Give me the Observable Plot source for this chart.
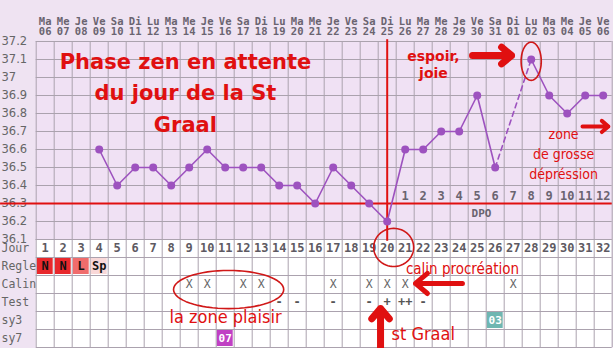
<!DOCTYPE html>
<html><head><meta charset="utf-8">
<script src="https://cdn.jsdelivr.net/npm/d3@7"></script>
<script src="https://cdn.jsdelivr.net/npm/@observablehq/plot@0.6"></script>
<style>
html,body{margin:0;padding:0;background:#efe3f2;}
#chart svg{display:block;}
</style></head>
<body><div id="chart"></div>
<script>
// ---- data ----
const cycleDays = [1,2,3,4,5,6,7,8,9,10,11,12,13,14,15,16,17,18,19,20,21,22,23,24,25,26,27,28,29,30,31,32];
const dayNames = ["Ma","Me","Je","Ve","Sa","Di","Lu","Ma","Me","Je","Ve","Sa","Di","Lu","Ma","Me","Je","Ve","Sa","Di","Lu","Ma","Me","Je","Ve","Sa","Di","Lu","Ma","Me","Je","Ve"];
const dayDates = ["06","07","08","09","10","11","12","13","14","15","16","17","18","19","20","21","22","23","24","25","26","27","28","29","30","31","01","02","03","04","05","06"];
const temps = [null,null,null,36.6,36.4,36.5,36.5,36.4,36.5,36.6,36.5,36.5,36.5,36.4,36.4,36.3,36.5,36.4,36.3,36.2,36.6,36.6,36.7,36.7,36.9,36.5,null,37.1,36.9,36.8,36.9,36.9];
const tempTicks = [37.2,37.1,37.0,36.9,36.8,36.7,36.6,36.5,36.4,36.3,36.2,36.1];
const coverline = 36.3;
const ovulationDay = 20;
const dpoDays = [21,22,23,24,25,26,27,28,29,30,31,32];
const dpoLabels = ["1","2","3","4","5","6","7","8","9","10","11","12"];
const regleDays = [1,2,3,4];
const regleCodes = ["N","N","L","Sp"];
const regleColors = ["#e8282c","#e8282c","#f06c6c","#f9d8d8"];
const calinDays = [9,10,12,13,17,19,20,21,27];
const testDays = [14,15,17,19,20,21,22];
const testLabels = ["-","-","-","-","+","++","-"];
const sy3Days = [26]; const sy3Labels = ["03"];
const sy7Days = [11]; const sy7Labels = ["07"];
const rowNames = ["Jour","Regle","Calin","Test","sy3","sy7"];
// row centres on the shared vertical scale (0.1 per row under 36.1)
const rowCenters = [36.05,35.95,35.85,35.75,35.65,35.55];
const rowLines = [36.1,36.0,35.9,35.8,35.7,35.6,35.5];

const RED = "#e01010";
const GRID = "#aba2ae";
const PURPLE = "#9d52bf";
const MONO = "DejaVu Sans Mono, monospace";
const HAND = "DejaVu Sans Condensed, DejaVu Sans, sans-serif";

const tempData = cycleDays.map((d,i)=>({day:d, t:temps[i]}));
const tempPoints = tempData.filter(d=>d.t!=null);
const gap = [{day:26,t:temps[25]},{day:28,t:temps[27]}];
const row = name => rowCenters[rowNames.indexOf(name)];

function ellipse(id,cx,cy,rx,ry){
  const pts=[]; for(let k=0;k<64;k++){const a=2*Math.PI*k/64; pts.push({id,x:cx+rx*Math.cos(a),y:cy+ry*Math.sin(a)});} return pts;
}
const ellipses = [
  ...ellipse("e28",28.0,37.09,0.56,0.106),
  ...ellipse("j20",20.36,36.056,1.11,0.106),
  ...ellipse("cal",11.19,35.822,3.06,0.106)
];

const gridX = d3.range(0,33).map(i=>i+0.5);

const chart = Plot.plot({
  width:613, height:348,
  marginLeft:35.7, marginRight:1.3, marginTop:41, marginBottom:1,
  style:{background:"#efe3f2", overflow:"visible"},
  x:{domain:[0.5,32.5], axis:null},
  y:{domain:[35.5,37.2], label:null},
  marks:[
    Plot.rect([0],{x1:0.5,x2:32.5,y1:36.1,y2:37.2,fill:"#f0e1f4"}),
    Plot.rect([0],{x1:0.5,x2:32.5,y1:35.5,y2:36.1,fill:"#ffffff"}),
    Plot.rect(regleDays,{x1:d=>d-0.5,x2:d=>d+0.5,y1:35.9,y2:36.0,fill:(d,i)=>regleColors[i],inset:1}),
    Plot.rect(sy3Days,{x1:d=>d-0.5,x2:d=>d+0.5,y1:35.6,y2:35.7,fill:"#6fb6b1",inset:1}),
    Plot.rect(sy7Days,{x1:d=>d-0.5,x2:d=>d+0.5,y1:35.5,y2:35.6,fill:"#c040c4",inset:1}),
    Plot.ruleX(gridX,{y1:35.5,y2:37.2,stroke:GRID,strokeWidth:1}),
    Plot.ruleY([...tempTicks,...rowLines],{x1:0.5,x2:32.5,stroke:GRID,strokeWidth:1}),
    Plot.axisY(tempTicks,{tickSize:0,tickPadding:0,textAnchor:"start",dx:-34.7,fontSize:11.5,fill:"#666",fontFamily:"DejaVu Sans, sans-serif",tickFormat:d=>String(+d.toFixed(1))}),
    Plot.text(rowNames,{x:0.5,y:(d,i)=>rowCenters[i],text:d=>d,textAnchor:"start",dx:-34.7,fontSize:11.5,fill:"#666",fontFamily:MONO}),
    Plot.text(cycleDays,{x:d=>d,frameAnchor:"top",dy:-24,text:(d,i)=>dayNames[i],fontSize:10.5,fontWeight:"bold",fill:"#6a6470",fontFamily:MONO}),
    Plot.text(cycleDays,{x:d=>d,frameAnchor:"top",dy:-14,text:(d,i)=>dayDates[i],fontSize:10.5,fontWeight:"bold",fill:"#6a6470",fontFamily:MONO}),
    // red reference lines
    Plot.ruleY([coverline],{x1:-1.48,x2:32.5,stroke:RED,strokeWidth:2}),
    Plot.ruleX([ovulationDay],{y1:36.09,y2:37.21,stroke:RED,strokeWidth:2}),
    // temperatures
    Plot.line(tempData,{x:"day",y:"t",stroke:PURPLE,strokeWidth:1.6}),
    Plot.line(gap,{x:"day",y:"t",stroke:PURPLE,strokeWidth:1.6,strokeDasharray:"5,4"}),
    Plot.dot(tempPoints,{x:"day",y:"t",r:4,fill:PURPLE,stroke:"none"}),
    // DPO
    Plot.text(dpoDays,{x:d=>d,y:coverline,dy:-7,text:(d,i)=>dpoLabels[i],fontSize:12,fontWeight:"bold",fill:"#6a6470",fontFamily:MONO}),
    Plot.text(["DPO"],{x:25.24,y:36.244,text:d=>d,fontSize:11,fontWeight:"bold",fill:"#6a6470",fontFamily:MONO}),
    // table
    Plot.text(cycleDays,{x:d=>d,y:row("Jour"),text:d=>String(d),fontSize:12,fontWeight:"bold",fill:"#5e5a62",fontFamily:MONO}),
    Plot.text(regleDays,{x:d=>d,y:row("Regle"),text:(d,i)=>regleCodes[i],fontSize:12,fontWeight:"bold",fill:"#111",fontFamily:MONO}),
    Plot.text(calinDays,{x:d=>d,y:row("Calin"),text:()=>"X",fontSize:11.5,fill:"#666",fontFamily:MONO}),
    Plot.text(testDays,{x:d=>d,y:row("Test"),text:(d,i)=>testLabels[i],fontSize:12,fontWeight:"bold",fill:"#555",fontFamily:MONO}),
    Plot.text(sy3Days,{x:d=>d,y:row("sy3"),text:(d,i)=>sy3Labels[i],fontSize:11,fontWeight:"bold",fill:"#fff",fontFamily:MONO}),
    Plot.text(sy7Days,{x:d=>d,y:row("sy7"),text:(d,i)=>sy7Labels[i],fontSize:11,fontWeight:"bold",fill:"#fff",fontFamily:MONO}),
    // annotations
    Plot.line(ellipses,{x:"x",y:"y",z:"id",curve:"linear-closed",stroke:"#d01818",strokeWidth:1.6,fill:"none"}),
    Plot.text(["Phase zen en attente\ndu jour de la St\nGraal"],{x:8.79,y:36.93,text:d=>d,fontSize:21,fontWeight:"bold",lineHeight:1.5,fill:RED,fontFamily:"DejaVu Sans, sans-serif"}),
    Plot.text(["espoir,\njoie"],{x:22.57,y:37.075,text:d=>d,fontSize:14,fontWeight:"bold",lineHeight:1.2,fill:RED,fontFamily:"DejaVu Sans, sans-serif"}),
    Plot.text(["zone\nde grosse\ndépréssion"],{x:29.8,y:36.583,text:d=>d,fontSize:14,lineHeight:1.45,fill:RED,fontFamily:HAND}),
    Plot.text(["calin procréation"],{x:24.18,y:35.933,text:d=>d,fontSize:15,fill:RED,fontFamily:HAND}),
    Plot.text(["la zone plaisir"],{x:11.02,y:35.667,text:d=>d,fontSize:18,fill:RED,fontFamily:HAND}),
    Plot.text(["st Graal"],{x:22.0,y:35.572,text:d=>d,fontSize:18,fill:RED,fontFamily:HAND}),
    Plot.arrow([0],{x1:24.74,y1:37.122,x2:26.91,y2:37.122,stroke:RED,strokeWidth:7,headLength:16,headAngle:80}),
    Plot.arrow([0],{x1:30.85,y1:36.728,x2:32.29,y2:36.728,stroke:RED,strokeWidth:4,headLength:12,headAngle:80}),
    Plot.arrow([0],{x1:24.18,y1:35.856,x2:21.57,y2:35.856,stroke:RED,strokeWidth:5,headLength:14,headAngle:80}),
    Plot.arrow([0],{x1:19.63,y1:35.49,x2:19.63,y2:35.717,stroke:RED,strokeWidth:7,headLength:14,headAngle:80})
  ]
});
document.getElementById("chart").appendChild(chart);
</script></body></html>
